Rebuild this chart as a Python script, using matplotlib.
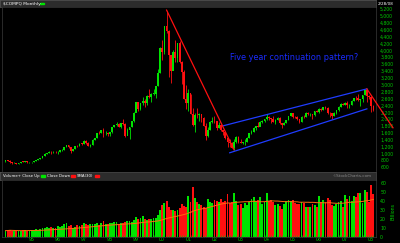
import matplotlib
matplotlib.use("Agg")
import matplotlib.pyplot as plt
import numpy as np
import pandas as pd
from matplotlib.patches import Rectangle

# monthly NASDAQ composite, Jan 1994 .. Feb 2008
close = [
    800, 793, 743, 733, 735, 706, 722, 765, 764, 777, 750, 752,
    755, 793, 817, 843, 865, 933, 1001, 1020, 1044, 1036, 1059, 1052,
    1060, 1100, 1101, 1191, 1243, 1185, 1081, 1141, 1227, 1222, 1293, 1291,
    1380, 1309, 1222, 1261, 1400, 1442, 1594, 1587, 1686, 1594, 1601, 1570,
    1619, 1771, 1835, 1869, 1779, 1895, 1872, 1499, 1694, 1771, 1950, 2193,
    2506, 2288, 2461, 2543, 2471, 2686, 2638, 2739, 2746, 2966, 3336, 4069,
    3940, 4697, 4573, 3861, 3401, 3966, 3767, 4206, 3673, 3370, 2598, 2471,
    2773, 2152, 1840, 2116, 2110, 2161, 2027, 1805, 1499, 1690, 1931, 1950,
    1934, 1731, 1845, 1688, 1616, 1463, 1328, 1315, 1172, 1330, 1479, 1336,
    1321, 1337, 1341, 1464, 1596, 1623, 1735, 1810, 1787, 1932, 1960, 2003,
    2066, 2030, 1994, 1920, 1987, 2048, 1887, 1838, 1897, 1975, 2097, 2175,
    2062, 2052, 1999, 1922, 2068, 2057, 2185, 2152, 2152, 2120, 2233, 2205,
    2306, 2281, 2340, 2323, 2179, 2172, 2091, 2184, 2258, 2367, 2432, 2415,
    2464, 2416, 2422, 2525, 2605, 2603, 2546, 2596, 2701, 2859, 2661, 2652,
    2390, 2271,
]
high = [
    803, 805, 800, 748, 745, 740, 725, 766, 772, 783, 780, 760,
    760, 795, 820, 845, 870, 935, 1010, 1025, 1068, 1065, 1070, 1070,
    1070, 1115, 1120, 1195, 1250, 1250, 1190, 1145, 1230, 1245, 1295, 1320,
    1385, 1390, 1330, 1265, 1410, 1450, 1600, 1650, 1700, 1745, 1650, 1620,
    1630, 1775, 1840, 1910, 1880, 1900, 2015, 1880, 1740, 1775, 1960, 2200,
    2510, 2505, 2475, 2650, 2600, 2690, 2865, 2760, 2890, 2970, 3450, 4090,
    4310, 4700, 5132, 4580, 3870, 4000, 4290, 4215, 4260, 3690, 3430, 2980,
    2890, 2740, 2330, 2170, 2315, 2180, 2150, 2060, 1900, 1765, 1945, 2065,
    2100, 1935, 1930, 1845, 1700, 1630, 1460, 1425, 1330, 1420, 1500, 1520,
    1430, 1350, 1430, 1470, 1600, 1680, 1760, 1815, 1910, 1945, 1975, 2010,
    2155, 2080, 2040, 2080, 2000, 2050, 2050, 1890, 1920, 1990, 2100, 2180,
    2190, 2100, 2090, 2020, 2080, 2110, 2220, 2220, 2170, 2160, 2240, 2280,
    2330, 2320, 2340, 2375, 2350, 2200, 2190, 2200, 2270, 2380, 2470, 2470,
    2510, 2530, 2430, 2565, 2630, 2660, 2725, 2600, 2710, 2860, 2855, 2710,
    2660, 2420,
]
low = [
    768, 780, 738, 705, 715, 692, 700, 720, 750, 750, 740, 735,
    740, 755, 790, 815, 835, 865, 930, 990, 1010, 990, 1030, 1015,
    990, 1045, 1070, 1095, 1180, 1170, 1010, 1065, 1130, 1195, 1220, 1250,
    1290, 1290, 1215, 1200, 1260, 1390, 1440, 1570, 1585, 1470, 1555, 1525,
    1500, 1610, 1760, 1810, 1760, 1740, 1840, 1480, 1530, 1420, 1760, 1920,
    2200, 2250, 2275, 2420, 2340, 2400, 2630, 2490, 2700, 2620, 2960, 3330,
    3730, 3900, 4490, 3220, 3040, 3420, 3670, 3650, 3620, 3020, 2590, 2290,
    2250, 2150, 1790, 1620, 2040, 1960, 1910, 1800, 1390, 1480, 1680, 1890,
    1880, 1700, 1730, 1650, 1530, 1430, 1200, 1190, 1160, 1108, 1300, 1320,
    1310, 1270, 1250, 1340, 1460, 1580, 1615, 1680, 1780, 1795, 1880, 1920,
    1990, 1990, 1900, 1910, 1870, 1980, 1860, 1750, 1830, 1880, 1970, 2080,
    2030, 2030, 1970, 1890, 1910, 2030, 2060, 2130, 2100, 2020, 2100, 2200,
    2180, 2240, 2270, 2300, 2150, 2065, 2010, 2080, 2160, 2250, 2340, 2400,
    2400, 2330, 2330, 2420, 2520, 2560, 2530, 2390, 2500, 2700, 2500, 2600,
    2200, 2250,
]
first_open = 776
# monthly volume, billions of shares
volume = [
    6.5, 6.8, 7.5, 6.5, 6.0, 6.2, 5.8, 6.5, 6.8, 7.0, 6.5, 6.0,
    7.0, 7.2, 8.0, 7.5, 8.5, 9.5, 10.0, 10.5, 10.0, 10.5, 10.0, 9.5,
    11.5, 11.0, 11.5, 13.5, 14.5, 11.5, 13.0, 10.0, 11.0, 12.5, 12.0, 12.5,
    14.5, 13.5, 13.0, 13.5, 14.0, 14.0, 14.5, 13.0, 15.5, 17.5, 13.5, 14.0,
    14.5, 15.0, 16.5, 16.0, 13.5, 15.0, 15.5, 16.5, 17.0, 17.5, 16.0, 18.5,
    22.0, 19.0, 21.0, 23.0, 19.5, 18.0, 19.0, 19.5, 20.5, 21.0, 24.0, 29.0,
    35.0, 37.0, 40.0, 33.0, 30.0, 30.0, 28.0, 30.0, 32.0, 36.0, 34.0, 33.0,
    45.0, 38.0, 55.0, 43.0, 38.0, 36.0, 35.0, 33.0, 32.0, 42.0, 38.0, 37.0,
    41.0, 40.0, 38.0, 42.0, 38.0, 40.0, 47.0, 37.0, 38.0, 48.0, 40.0, 35.0,
    36.0, 32.0, 37.0, 35.0, 38.0, 42.0, 44.0, 40.0, 41.0, 44.0, 36.0, 38.0,
    48.0, 40.0, 41.0, 38.0, 35.0, 36.0, 34.0, 31.0, 36.0, 40.0, 41.0, 40.0,
    41.0, 37.0, 36.0, 36.0, 38.0, 37.0, 33.0, 33.0, 33.0, 36.0, 35.0, 33.0,
    45.0, 38.0, 41.0, 38.0, 43.0, 41.0, 35.0, 34.0, 36.0, 39.0, 40.0, 33.0,
    46.0, 42.0, 45.0, 40.0, 45.0, 44.0, 48.0, 48.0, 37.0, 52.0, 50.0, 38.0,
    57.0, 47.0,
]
year_labels = ["95", "96", "97", "98", "99", "00", "01", "02", "03", "04", "05", "06", "07", "08"]
price_ticks = list(range(600, 5201, 200))
vol_ticks = [0, 10, 20, 30, 40, 50, 60]
legend_items = [("Volume+ Close Up", "#00e400"), ("Close Down", "#ff1010"), ("SMA(30)", "#ff1010")]

# annotation lines as (month index, price)
upper_channel = ([100, 166], [1808, 2881])
lower_channel = ([103, 166], [1024, 2300])
drop_2000 = ([74, 105], [5170, 1111])
drop_2007 = ([166, 178], [2881, 1750])

UP = "#00e400"
DOWN = "#ff1010"
AXIS_GREEN = "#00c800"
BAR_GRAY = "#2c2c2c"
W, H = 400, 243


def px_axes(fig, x0, y0, x1, y1):
    return fig.add_axes([x0 / W, 1 - y1 / H, (x1 - x0) / W, (y1 - y0) / H])


def swatch(fig, x0, yc, color):
    fig.patches.append(Rectangle((x0 / W, 1 - (yc + 0.7) / H), 4 / W, 1.4 / H, color=color,
                                 transform=fig.transFigure, figure=fig))


def main() -> None:
    df = pd.DataFrame({"close": close, "high": high, "low": low, "volume": volume})
    df["open"] = df["close"].shift(1).fillna(first_open)
    df["up"] = df["close"] >= df["open"]
    df["sma"] = df["volume"].rolling(30, min_periods=1).mean()
    x = np.arange(len(df))
    xlim = (-1.6, 170.2)

    fig = plt.figure(figsize=(W / 100, H / 100), dpi=100, facecolor="black")
    renderer = fig.canvas.get_renderer()

    # header bars
    for y0, y1 in [(0, 7), (171.5, 180)]:
        hb = px_axes(fig, 0, y0, 376, y1)
        hb.set_facecolor(BAR_GRAY)
        hb.set_xticks([]); hb.set_yticks([])
        for s in hb.spines.values():
            s.set_color("#555555"); s.set_linewidth(0.5)
    fig.text(3 / W, 1 - 3.6 / H, "$COMPQ Monthly", color="white", fontsize=3.2, va="center")
    swatch(fig, 39.5, 3.8, UP)
    fig.text(394 / W, 1 - 3.6 / H, "2/28/08", color="white", fontsize=3.0, va="center", ha="right")

    # volume legend, laid out left to right
    cx = 3.0
    for label, col in legend_items:
        t = fig.text(cx / W, 1 - 175.8 / H, label, color="white", fontsize=2.8, va="center")
        cx += t.get_window_extent(renderer).width + 1.5
        swatch(fig, cx, 175.8, col)
        cx += 5.5
    fig.text(372 / W, 1 - 175.8 / H, "\u00a9StockCharts.com", color="#8a8a8a", fontsize=3.0,
             va="center", ha="right")

    # price panel
    ax = px_axes(fig, 2, 7, 376, 171.5)
    ax.set_facecolor("black")
    colors = np.where(df["up"], UP, DOWN)
    ax.vlines(x, df["low"], df["high"], colors=colors, linewidth=0.6)
    for xi, o, c, col in zip(x, df["open"], df["close"], colors):
        lo, hi = min(o, c), max(o, c)
        ax.add_patch(Rectangle((xi - 0.4, lo), 0.8, max(hi - lo, 8), color=col, linewidth=0))
    ax.plot(*upper_channel, color="#1f3cff", linewidth=0.9)
    ax.plot(*lower_channel, color="#1f3cff", linewidth=0.9)
    ax.plot(*drop_2000, color="#ff1010", linewidth=0.9)
    ax.plot(*drop_2007, color="#ff1010", linewidth=0.9, clip_on=False, zorder=5)
    ax.text(103, 3800, "Five year continuation pattern?", color="#1a2cff", fontsize=5.9,
            ha="left", va="center")
    ax.set_xlim(*xlim)
    ax.set_ylim(480, 5260)
    ax.set_xticks([])
    ax.yaxis.tick_right()
    ax.set_yticks(price_ticks)
    ax.set_yticklabels([f"{t:,}" for t in price_ticks])
    ax.tick_params(axis="y", colors=AXIS_GREEN, labelsize=3.3, length=0, pad=3)
    for s in ax.spines.values():
        s.set_color("#3a3a3a"); s.set_linewidth(0.5)

    # volume panel
    av = px_axes(fig, 2, 180, 376, 236.5)
    av.set_facecolor("black")
    av.bar(x, df["volume"], width=0.85, color=colors, linewidth=0)
    av.plot(x, df["sma"], color="#ff6a10", linewidth=0.7)
    av.set_xlim(*xlim)
    av.set_ylim(0, 63)
    av.yaxis.tick_right()
    av.set_yticks(vol_ticks)
    av.tick_params(axis="y", colors=AXIS_GREEN, labelsize=3.4, length=0, pad=3)
    av.set_xticks(np.arange(12, 12 * (len(year_labels) + 1), 12))
    av.set_xticklabels(year_labels)
    av.set_xticks(x, minor=True)
    av.tick_params(axis="x", which="both", colors=AXIS_GREEN, labelsize=3.4, length=1.2,
                   width=0.4, direction="in", pad=0.6)
    av.text(1.045, 0.45, "Billions", transform=av.transAxes, rotation=90, color=AXIS_GREEN,
            fontsize=3.4, ha="center", va="center")
    for s in av.spines.values():
        s.set_color("#3a3a3a"); s.set_linewidth(0.5)

    fig.savefig("out.png", dpi=100, facecolor="black")


if __name__ == "__main__":
    main()
